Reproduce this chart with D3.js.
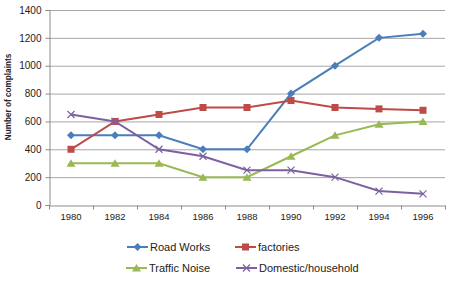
<!DOCTYPE html>
<html>
<head>
<meta charset="utf-8">
<script src="https://cdn.jsdelivr.net/npm/d3@7"></script>
<style>
  body { margin: 0; background: #fff; }
  text { font-family: "Liberation Sans", Arial, sans-serif; }
</style>
</head>
<body>
<svg id="chart" width="452" height="281"></svg>
<script>
// Data
const years = ["1980", "1982", "1984", "1986", "1988", "1990", "1992", "1994", "1996"];
const roadWorks = [500, 500, 500, 400, 400, 800, 1000, 1200, 1230];
const factories = [400, 600, 650, 700, 700, 750, 700, 690, 680];
const trafficNoise = [300, 300, 300, 200, 200, 350, 500, 580, 600];
const domestic = [650, 600, 400, 350, 250, 250, 200, 100, 80];
const yTicks = [0, 200, 400, 600, 800, 1000, 1200, 1400];

const series = [
  { name: "Road Works", values: roadWorks, color: "#4a7ebb", marker: "diamond" },
  { name: "factories", values: factories, color: "#be4b48", marker: "square" },
  { name: "Traffic Noise", values: trafficNoise, color: "#98b954", marker: "triangle" },
  { name: "Domestic/household", values: domestic, color: "#7d60a0", marker: "cross" }
];

const svg = d3.select("#chart");
const plot = { left: 49, right: 445, top: 10, bottom: 205 };

const x = d3.scaleBand().domain(years).range([plot.left, plot.right]);
const y = d3.scaleLinear().domain([0, 1400]).range([plot.bottom, plot.top]);

// gridlines
svg.append("g")
  .selectAll("line")
  .data(yTicks.filter(d => d > 0))
  .enter().append("line")
  .attr("x1", plot.left).attr("x2", plot.right)
  .attr("y1", d => y(d) + 0.5).attr("y2", d => y(d) + 0.5)
  .attr("stroke", "#a6a6a6").attr("stroke-width", 1);

// y axis
const yAxis = svg.append("g")
  .attr("transform", `translate(${plot.left + 0.5},0)`)
  .call(d3.axisLeft(y).tickValues(yTicks).tickSize(4).tickPadding(4).tickFormat(d3.format("d")));
yAxis.select(".domain").attr("stroke", "#8c8c8c");
yAxis.selectAll(".tick line").attr("stroke", "#8c8c8c");
yAxis.selectAll(".tick text").attr("font-size", 10).attr("fill", "#222");

// x axis with ticks between categories
const xAxis = svg.append("g")
  .attr("transform", `translate(0,${plot.bottom + 0.5})`)
  .call(d3.axisBottom(x).tickSize(0).tickPadding(8));
xAxis.select(".domain").attr("stroke", "#8c8c8c");
xAxis.selectAll(".tick text").attr("font-size", 9.5).attr("fill", "#222");
xAxis.selectAll(".bound")
  .data(d3.range(years.length + 1))
  .enter().append("line")
  .attr("x1", i => Math.round(plot.left + i * x.step()) + 0.5)
  .attr("x2", i => Math.round(plot.left + i * x.step()) + 0.5)
  .attr("y1", 0).attr("y2", 4)
  .attr("stroke", "#8c8c8c");

// y label
svg.append("text")
  .attr("transform", `translate(11,97) rotate(-90)`)
  .attr("text-anchor", "middle")
  .attr("font-size", 8.2)
  .attr("font-weight", "bold")
  .attr("fill", "#222")
  .text("Number of complaints");

const cx = d => x(d) + x.bandwidth() / 2;

function drawMarker(g, type, color, px, py) {
  if (type === "diamond") {
    g.append("path").attr("d", `M${px},${py - 4}L${px + 4},${py}L${px},${py + 4}L${px - 4},${py}Z`).attr("fill", color);
  } else if (type === "square") {
    g.append("rect").attr("x", px - 3.5).attr("y", py - 3.5).attr("width", 7).attr("height", 7).attr("fill", color);
  } else if (type === "triangle") {
    g.append("path").attr("d", `M${px},${py - 4}L${px + 4.5},${py + 3.5}L${px - 4.5},${py + 3.5}Z`).attr("fill", color);
  } else {
    g.append("path").attr("d", `M${px - 3.5},${py - 3.5}L${px + 3.5},${py + 3.5}M${px + 3.5},${py - 3.5}L${px - 3.5},${py + 3.5}`)
      .attr("stroke", color).attr("stroke-width", 1.2).attr("fill", "none");
  }
}

const line = d3.line().x((d, i) => cx(years[i])).y(d => y(d));

series.forEach(s => {
  const g = svg.append("g");
  g.append("path")
    .attr("d", line(s.values))
    .attr("fill", "none")
    .attr("stroke", s.color)
    .attr("stroke-width", 2);
  s.values.forEach((v, i) => drawMarker(g, s.marker, s.color, cx(years[i]), y(v)));
});

// legend
const legendPos = [
  { lx: 127, ty: 247 },
  { lx: 235, ty: 247 },
  { lx: 126, ty: 268 },
  { lx: 236, ty: 268 }
];
series.forEach((s, i) => {
  const p = legendPos[i];
  const g = svg.append("g");
  g.append("line")
    .attr("x1", p.lx).attr("x2", p.lx + 21)
    .attr("y1", p.ty).attr("y2", p.ty)
    .attr("stroke", s.color).attr("stroke-width", 2);
  drawMarker(g, s.marker, s.color, p.lx + 10.5, p.ty);
  g.append("text")
    .attr("x", p.lx + 23)
    .attr("y", p.ty + 4)
    .attr("font-size", 11)
    .attr("fill", "#222")
    .text(s.name);
});
</script>
</body>
</html>
